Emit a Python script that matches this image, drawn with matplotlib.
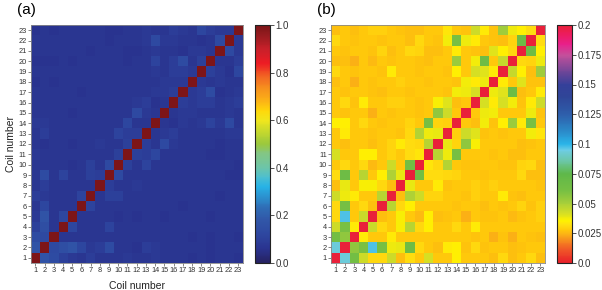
import numpy as np
import matplotlib
matplotlib.use("Agg")
import matplotlib.pyplot as plt
from matplotlib.colors import LinearSegmentedColormap

plt.rcParams['font.family'] = ['Liberation Sans', 'DejaVu Sans']

n_coils = 23
coil_labels = [str(i) for i in range(1, n_coils + 1)]

# (a) coupling, lower triangle: row i holds columns 1..i-1 (diagonal is 1)
a_lower = [
    [.17],
    [.14, .13],
    [.10, .15, .07],
    [.08, .17, .07, .12],
    [.07, .12, .07, .07, .07],
    [.09, .08, .07, .07, .07, .11],
    [.07, .09, .07, .07, .07, .07, .07],
    [.07, .14, .07, .11, .07, .07, .10, .09],
    [.07, .07, .07, .07, .06, .07, .10, .07, .13],
    [.08, .07, .07, .07, .07, .07, .07, .07, .07, .10],
    [.07, .06, .07, .07, .06, .07, .07, .08, .07, .07, .10],
    [.07, .09, .07, .07, .07, .07, .07, .07, .07, .11, .09, .09],
    [.08, .08, .07, .07, .07, .07, .07, .07, .07, .07, .12, .07, .07],
    [.07, .07, .07, .07, .06, .07, .07, .07, .07, .07, .07, .13, .08, .07],
    [.07, .07, .07, .07, .07, .07, .07, .07, .07, .07, .07, .08, .09, .06, .07],
    [.07, .07, .07, .07, .07, .06, .07, .07, .07, .07, .07, .07, .07, .08, .08, .09],
    [.06, .07, .06, .07, .07, .07, .07, .07, .07, .07, .07, .07, .07, .07, .08, .08, .08],
    [.07, .07, .07, .07, .07, .07, .07, .07, .07, .07, .07, .07, .07, .08, .07, .09, .09, .08],
    [.06, .06, .06, .07, .06, .07, .07, .07, .07, .07, .06, .07, .07, .11, .07, .09, .14, .07, .10],
    [.07, .07, .07, .07, .07, .07, .06, .07, .07, .07, .06, .06, .07, .08, .07, .07, .06, .08, .08, .07],
    [.07, .07, .07, .07, .07, .07, .07, .07, .06, .07, .07, .07, .08, .13, .08, .08, .07, .07, .06, .07, .13],
    [.06, .07, .06, .07, .07, .07, .07, .07, .06, .06, .07, .07, .08, .07, .07, .09, .08, .07, .12, .09, .08, .08],
]

# (b) same layout, 0..0.2 scale
b_lower = [
    [.093],
    [.063, .055],
    [.043, .060, .034],
    [.031, .097, .028, .044],
    [.031, .061, .028, .031, .026],
    [.043, .038, .034, .028, .028, .047],
    [.026, .039, .028, .036, .036, .031, .026],
    [.032, .066, .028, .047, .028, .035, .049, .039],
    [.028, .031, .028, .031, .025, .028, .043, .028, .064],
    [.042, .028, .028, .035, .035, .028, .030, .028, .032, .033],
    [.028, .026, .028, .028, .026, .028, .030, .034, .032, .031, .047],
    [.028, .034, .028, .028, .027, .028, .028, .027, .031, .048, .038, .039],
    [.035, .035, .028, .031, .028, .027, .028, .028, .030, .028, .061, .030, .029],
    [.028, .027, .028, .028, .024, .028, .027, .028, .028, .027, .028, .055, .043, .028],
    [.028, .031, .027, .034, .028, .028, .029, .029, .028, .027, .028, .036, .040, .026, .028],
    [.028, .027, .028, .028, .027, .026, .028, .028, .027, .028, .028, .028, .027, .037, .038, .042],
    [.026, .028, .024, .028, .027, .028, .028, .029, .028, .028, .027, .028, .028, .027, .037, .034, .038],
    [.031, .028, .027, .028, .028, .027, .034, .028, .028, .027, .028, .028, .027, .035, .028, .042, .040, .034],
    [.026, .026, .024, .028, .025, .028, .027, .028, .028, .027, .026, .028, .028, .053, .028, .037, .066, .028, .045],
    [.028, .027, .028, .028, .027, .030, .026, .028, .031, .030, .026, .026, .028, .034, .028, .027, .026, .040, .035, .031],
    [.031, .028, .027, .028, .028, .027, .028, .028, .026, .031, .028, .027, .037, .061, .038, .034, .028, .027, .026, .030, .066],
    [.026, .028, .026, .028, .029, .029, .028, .027, .026, .026, .028, .028, .033, .028, .027, .043, .034, .027, .052, .038, .035, .032],
]


def full_matrix(lower):
    m = np.eye(n_coils)
    for i, row in enumerate(lower, start=1):
        for j, v in enumerate(row):
            m[i, j] = v
            m[j, i] = v
    return m


k_a = full_matrix(a_lower)
k_b = full_matrix(b_lower)

cmap_a = LinearSegmentedColormap.from_list('cmap_a', [
    (0.00, '#262262'), (0.06, '#2a3490'), (0.12, '#2e47a0'), (0.18, '#3157a8'),
    (0.23, '#2f6cb5'), (0.29, '#2a9bd6'), (0.32, '#27b2e6'), (0.36, '#4dbfd0'),
    (0.40, '#6dc5a8'), (0.46, '#83c684'), (0.50, '#9bc83d'), (0.55, '#c4d82e'),
    (0.60, '#f0e61d'), (0.64, '#ffd80a'), (0.68, '#fcb316'), (0.73, '#f7941d'),
    (0.78, '#f26a23'), (0.84, '#ed1c24'), (0.90, '#c8202a'), (0.96, '#941b1f'),
    (1.00, '#7d1518')])

cmap_b = LinearSegmentedColormap.from_list('cmap_b', [
    (0.000, '#e8212a'), (0.050, '#ef5228'), (0.100, '#f7941d'), (0.120, '#fcb415'),
    (0.135, '#ffc60b'), (0.160, '#ffe010'), (0.175, '#fff200'), (0.210, '#d4de26'),
    (0.250, '#a8cf3a'), (0.300, '#78c043'), (0.375, '#5fb84a'), (0.430, '#6cc7a8'),
    (0.475, '#6dcde6'), (0.500, '#2ab4e8'), (0.560, '#2b86c6'), (0.625, '#2e5eab'),
    (0.700, '#2f4598'), (0.750, '#35409a'), (0.800, '#6a4598'), (0.875, '#c4509b'),
    (0.920, '#e8208c'), (0.960, '#ec1c60'), (1.000, '#e9203a')])

fig = plt.figure(figsize=(6.02, 2.90), dpi=100)
W, H = 602.0, 290.0

ax_a = fig.add_axes([30.7 / W, 27 / H, 212 / W, 238 / H])
cax_a = fig.add_axes([255 / W, 27 / H, 15 / W, 238 / H])
ax_b = fig.add_axes([331 / W, 27 / H, 214 / W, 238 / H])
cax_b = fig.add_axes([557 / W, 27 / H, 15 / W, 238 / H])

ext = (0.5, n_coils + 0.5, 0.5, n_coils + 0.5)
im_a = ax_a.imshow(k_a, origin='lower', extent=ext, aspect='auto',
                   cmap=cmap_a, vmin=0, vmax=1, interpolation='nearest')
im_b = ax_b.imshow(k_b, origin='lower', extent=ext, aspect='auto',
                   cmap=cmap_b, vmin=0, vmax=0.2, interpolation='nearest')

for ax in (ax_a, ax_b):
    ax.set_xticks(range(1, n_coils + 1))
    ax.set_yticks(range(1, n_coils + 1))
    ax.set_xticklabels(coil_labels, fontsize=5.3, color='#333333')
    ax.set_yticklabels(coil_labels, fontsize=5.3, color='#333333')
    ax.tick_params(length=2, width=0.5, pad=1, color='#555555')
    for s in ax.spines.values():
        s.set_linewidth(0.6)
        s.set_color('#888888')

ax_a.set_xlabel('Coil number', fontsize=7.5, labelpad=5, color='#222222')
ax_a.set_ylabel('Coil number', fontsize=7.5, labelpad=2, color='#222222')

cb_a = fig.colorbar(im_a, cax=cax_a, ticks=[0, 0.2, 0.4, 0.6, 0.8, 1.0])
cb_a.ax.set_yticklabels(['0.0', '0.2', '0.4', '0.6', '0.8', '1.0'])
cb_b = fig.colorbar(im_b, cax=cax_b,
                    ticks=[0, 0.025, 0.05, 0.075, 0.1, 0.125, 0.15, 0.175, 0.2])
cb_b.ax.set_yticklabels(['0.0', '0.025', '0.05', '0.075', '0.1',
                         '0.125', '0.15', '0.175', '0.2'])
for cb in (cb_a, cb_b):
    cb.ax.tick_params(labelsize=7, length=3, width=0.6, pad=1, colors='#333333')
    cb.outline.set_linewidth(0.8)
    cb.outline.set_edgecolor('#222222')

fig.text(17 / W, 1 - 10 / H, '(a)', fontsize=11, va='center', ha='left')
fig.text(317 / W, 1 - 10 / H, '(b)', fontsize=11, va='center', ha='left')

fig.savefig('out.png', dpi=100)
